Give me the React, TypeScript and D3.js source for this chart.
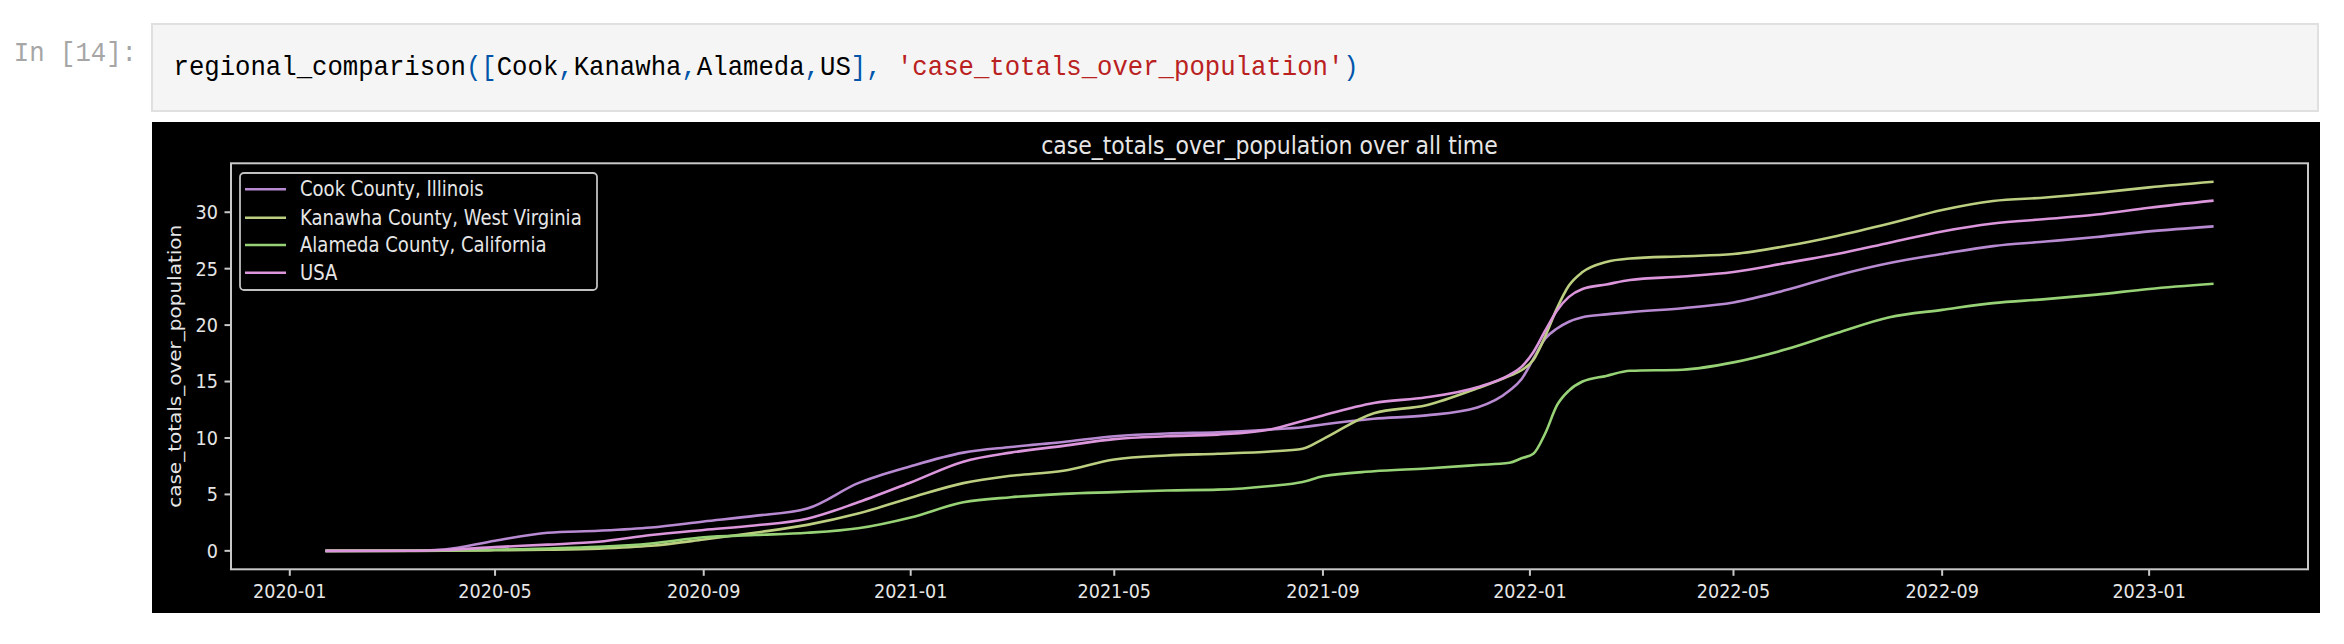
import React from "react";
import * as d3 from "d3";

// ---------------- data ----------------
const dates = [
  "2020-01-22", "2020-03-15", "2020-04-01", "2020-05-01", "2020-06-01", "2020-07-01",
  "2020-08-01", "2020-09-01", "2020-10-01", "2020-11-01", "2020-12-01",
  "2021-01-01", "2021-02-01", "2021-03-01", "2021-04-01", "2021-05-01", "2021-06-01",
  "2021-07-01", "2021-08-01", "2021-08-20", "2021-09-01", "2021-10-01", "2021-11-01",
  "2021-12-01", "2021-12-20", "2021-12-27",
  "2022-01-03", "2022-01-10", "2022-01-17", "2022-01-24", "2022-02-01", "2022-02-15",
  "2022-03-01", "2022-04-01", "2022-05-01", "2022-06-01", "2022-07-01", "2022-08-01",
  "2022-09-01", "2022-10-01", "2022-11-01", "2022-12-01",
  "2023-01-01", "2023-02-08",
];

const cook = [
  0, 0.02, 0.12, 0.9, 1.6, 1.78,
  2.07, 2.6, 3.1, 3.75, 6.0,
  7.5, 8.7, 9.2, 9.65, 10.15, 10.4,
  10.5, 10.75, 10.95, 11.2, 11.7, 12.0,
  12.7, 14.2, 15.2,
  17.0, 18.8, 19.7, 20.3, 20.7, 20.95,
  21.15, 21.5, 22.0, 23.1, 24.4, 25.5,
  26.3, 27.0, 27.4, 27.8,
  28.3, 28.75,
];

const kanawha = [
  0, 0, 0.01, 0.05, 0.1, 0.2,
  0.45, 1.0, 1.6, 2.3, 3.3,
  4.7, 6.0, 6.65, 7.1, 8.1, 8.45,
  8.6, 8.8, 9.05, 9.9, 12.2, 12.9,
  14.4, 15.5, 16.0,
  16.9, 19.0, 21.5, 23.5, 24.7, 25.6,
  25.9, 26.1, 26.3, 27.0, 27.9, 29.0,
  30.2, 31.0, 31.3, 31.7,
  32.2, 32.7,
];

const alameda = [
  0, 0.01, 0.03, 0.1, 0.2, 0.35,
  0.65, 1.2, 1.4, 1.6, 2.0,
  2.96, 4.3, 4.75, 5.05, 5.2, 5.35,
  5.42, 5.75, 6.1, 6.6, 7.05, 7.3,
  7.6, 7.8, 8.2,
  8.6, 10.4, 12.9, 14.2, 15.0, 15.5,
  15.95, 16.05, 16.7, 17.85, 19.3, 20.7,
  21.35, 21.95, 22.3, 22.7,
  23.2, 23.66,
];

const usa = [
  0, 0.01, 0.07, 0.33, 0.55, 0.8,
  1.4, 1.85, 2.25, 2.85, 4.3,
  6.06, 7.9, 8.7, 9.3, 9.9, 10.15,
  10.3, 10.75, 11.5, 12.0, 13.1, 13.6,
  14.5, 15.6, 16.3,
  17.6, 19.5, 21.3, 22.5, 23.2, 23.6,
  24.0, 24.3, 24.7, 25.5, 26.3, 27.3,
  28.3, 29.0, 29.4, 29.8,
  30.4, 31.03,
];

const seriesNames = [
  "Cook County, Illinois",
  "Kanawha County, West Virginia",
  "Alameda County, California",
  "USA",
];
const seriesValues = [cook, kanawha, alameda, usa];
const seriesColors = ["#b88ad2", "#bccf80", "#98d276", "#dc96dc"];

const yTicks = [0, 5, 10, 15, 20, 25, 30];
const xTickLabels = [
  "2020-01", "2020-05", "2020-09", "2021-01", "2021-05", "2021-09",
  "2022-01", "2022-05", "2022-09", "2023-01",
];

const titleText = "case_totals_over_population over all time";
const yLabelText = "case_totals_over_population";

// ---------------- layout ----------------
const W = 2344;
const H = 644;
const AX = { left: 231, right: 2308, top: 163.3, bottom: 569.3 };
const SX = 0.88; // horizontal squeeze of the rendered figure text
const FONT = "'DejaVu Sans', 'Liberation Sans', sans-serif";
const MONO = "'Liberation Mono', 'DejaVu Sans Mono', monospace";
const TXT = "#e6e6e6";
const SPINE = "#c8c8c8";

export default function App() {
  const parse = d3.timeParse("%Y-%m-%d");
  const dts = dates.map((d) => parse(d) as Date);

  const t0 = dts[0].getTime();
  const t1 = dts[dts.length - 1].getTime();
  const tm = (t1 - t0) * 0.05;
  const x = d3
    .scaleTime()
    .domain([new Date(t0 - tm), new Date(t1 + tm)])
    .range([AX.left, AX.right]);

  const all = seriesValues.flat();
  const vmin = d3.min(all) as number;
  const vmax = d3.max(all) as number;
  const vm = (vmax - vmin) * 0.05;
  const y = d3
    .scaleLinear()
    .domain([vmin - vm, vmax + vm])
    .range([AX.bottom, AX.top]);

  const line = d3
    .line<number>()
    .x((_, i) => x(dts[i]))
    .y((v) => y(v))
    .curve(d3.curveMonotoneX);

  const pm = d3.timeParse("%Y-%m");
  const xTicks = xTickLabels.map((s) => ({ s, d: pm(s) as Date }));

  const legendRows = [189.3, 217.7, 245, 272.7];

  return (
    <svg
      width={W}
      height={H}
      style={{ position: "absolute", left: 0, top: 0, background: "#fff" }}
    >
      <rect x={0} y={0} width={W} height={H} fill="#ffffff" />
      {/* Jupyter prompt */}
      <text
        transform={`translate(137,61) scale(0.9,1)`}
        textAnchor="end"
        fontFamily={MONO}
        fontSize={28.5}
        fill="#a6a6a6"
      >
        In [14]:
      </text>
      {/* code cell */}
      <rect x={152} y={24} width={2166} height={87} fill="#f5f5f5" stroke="#e0e0e0" strokeWidth={2} />
      <text
        transform={`translate(173.5,75) scale(0.9,1)`}
        fontFamily={MONO}
        fontSize={28.5}
        fill="#000"
      >
        <tspan>regional_comparison</tspan>
        <tspan fill="#0055aa">([</tspan>
        <tspan>Cook</tspan>
        <tspan fill="#0055aa">,</tspan>
        <tspan>Kanawha</tspan>
        <tspan fill="#0055aa">,</tspan>
        <tspan>Alameda</tspan>
        <tspan fill="#0055aa">,</tspan>
        <tspan>US</tspan>
        <tspan fill="#0055aa">], </tspan>
        <tspan fill="#ba2121">'case_totals_over_population'</tspan>
        <tspan fill="#0055aa">)</tspan>
      </text>

      {/* figure */}
      <rect x={152} y={122} width={2168} height={491} fill="#000" />

      <text
        transform={`translate(${(AX.left + AX.right) / 2},154) scale(${SX},1)`}
        textAnchor="middle"
        fontFamily={FONT}
        fontSize={25}
        fill={TXT}
      >
        {titleText}
      </text>

      {/* series */}
      <g clipPath="url(#plotclip)">
        {seriesValues.map((vals, i) => (
          <path
            key={seriesNames[i]}
            d={line(vals) || ""}
            fill="none"
            stroke={seriesColors[i]}
            strokeWidth={2.6}
            strokeLinejoin="round"
          />
        ))}
      </g>
      <defs>
        <clipPath id="plotclip">
          <rect x={AX.left} y={AX.top} width={AX.right - AX.left} height={AX.bottom - AX.top} />
        </clipPath>
      </defs>

      {/* spines */}
      <rect
        x={AX.left}
        y={AX.top}
        width={AX.right - AX.left}
        height={AX.bottom - AX.top}
        fill="none"
        stroke={SPINE}
        strokeWidth={2}
      />

      {/* y ticks */}
      {yTicks.map((t) => (
        <g key={"y" + t}>
          <line x1={AX.left - 6.5} x2={AX.left} y1={y(t)} y2={y(t)} stroke={SPINE} strokeWidth={2} />
          <text
            transform={`translate(${AX.left - 13},${y(t)}) scale(${SX},1)`}
            textAnchor="end"
            dominantBaseline="central"
            fontFamily={FONT}
            fontSize={20}
            fill={TXT}
          >
            {t}
          </text>
        </g>
      ))}

      {/* x ticks */}
      {xTicks.map((t) => (
        <g key={t.s}>
          <line x1={x(t.d)} x2={x(t.d)} y1={AX.bottom} y2={AX.bottom + 6.5} stroke={SPINE} strokeWidth={2} />
          <text
            transform={`translate(${x(t.d)},598) scale(${SX},1)`}
            textAnchor="middle"
            fontFamily={FONT}
            fontSize={20}
            fill={TXT}
          >
            {t.s}
          </text>
        </g>
      ))}

      {/* y label */}
      <text
        transform={`translate(175,${(AX.top + AX.bottom) / 2}) scale(${SX},1) rotate(-90)`}
        textAnchor="middle"
        dominantBaseline="central"
        fontFamily={FONT}
        fontSize={20}
        fill={TXT}
      >
        {yLabelText}
      </text>

      {/* legend */}
      <rect x={240} y={173} width={357} height={117} rx={4} fill="#000" stroke="#c0c0c0" strokeWidth={1.8} />
      {seriesNames.map((n, i) => (
        <g key={"lg" + n}>
          <line x1={245} x2={286} y1={legendRows[i]} y2={legendRows[i]} stroke={seriesColors[i]} strokeWidth={2.6} />
          <text
            transform={`translate(300,${legendRows[i]}) scale(${SX},1)`}
            dominantBaseline="central"
            fontFamily={FONT}
            fontSize={20.5}
            fill={TXT}
          >
            {n}
          </text>
        </g>
      ))}
    </svg>
  );
}
